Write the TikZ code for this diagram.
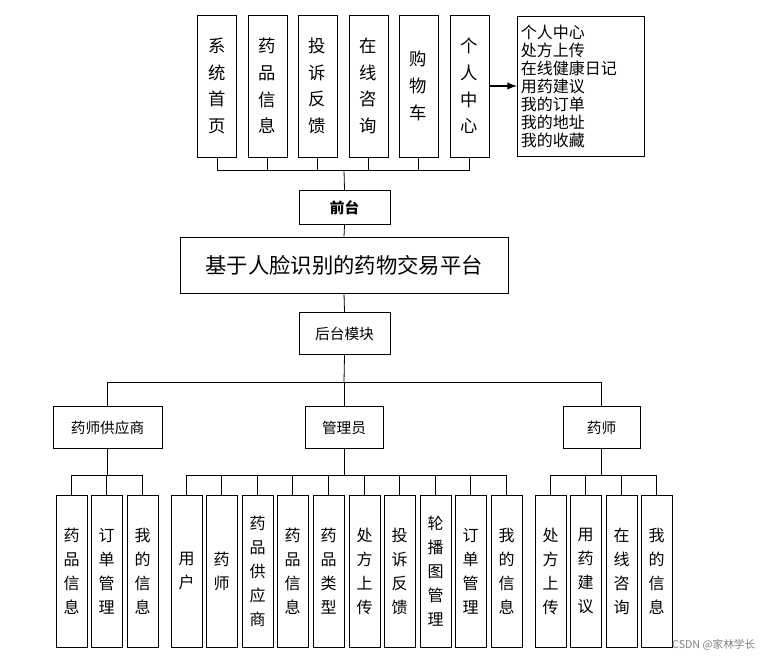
\documentclass[tikz,border=0pt]{standalone}
\usepackage{fontspec}
\newfontfamily\cjk{Noto Sans CJK SC}
\begin{document}
\begin{tikzpicture}[x=0.75pt,y=-0.75pt,
  box/.style={draw,line width=0.6pt,inner sep=0pt,font=\cjk,align=center},
  topv/.style={box,minimum width=29.25pt,minimum height=106.5pt,font=\cjk\fontsize{13}{20}\selectfont},
  botv/.style={box,minimum width=23.25pt,minimum height=114pt,font=\cjk\fontsize{12}{18}\selectfont},
  hbox/.style={box,font=\cjk\fontsize{11}{13}\selectfont},
  ln/.style={line width=0.6pt}]
\useasboundingbox (0,0) rectangle (767,659);
% top
\foreach \n/\x/\t in {t1/217/系\\统\\首\\页, t2/267.5/药\\品\\信\\息, t3/317.5/投\\诉\\反\\馈, t4/368.5/在\\线\\咨\\询, t5/418.5/购\\物\\车, t6/469.5/个\\人\\中\\心}
  \node[topv] (\n) at (\x,86) {\t};
\node[box,anchor=north west,minimum width=95.25pt,minimum height=105pt,align=left,font=\cjk\fontsize{12}{13.5}\selectfont] (pc) at (517,16) {\parbox[c][98pt][c]{90pt}{个人中心\\处方上传\\在线健康日记\\用药建议\\我的订单\\我的地址\\我的收藏}};
\draw[ln,-latex,line width=1.5pt] (t6.east) -- (pc.west |- t6.east);
\node[hbox,minimum width=68.25pt,minimum height=26pt,font=\cjk\bfseries\fontsize{11}{13}\selectfont] (fg) at (344.5,207.5) {前台};
\node[box,minimum width=246pt,minimum height=42pt,font=\cjk\fontsize{16}{18}\selectfont] (main) at (344,265) {基于人脸识别的药物交易平台};
\node[hbox,minimum width=68.25pt,minimum height=32pt] (bg) at (344.5,333.5) {后台模块};
\coordinate (tb) at (344,170);
\draw[ln] (t1.south) |- (t6.south |- tb) -- (t6.south);
\foreach \n in {t2,t3,t4,t5} \draw[ln] (\n.south) -- (\n.south |- tb);
\draw[ln] (fg.north) -- (tb);
\draw[ln] (fg.south) -- (main.north);
\draw[ln] (main.south) -- (bg.north);
% second level
\node[hbox,minimum width=81.75pt,minimum height=32pt] (g1) at (107.5,427.5) {药师供应商};
\node[hbox,minimum width=58.5pt,minimum height=32pt] (g2) at (344,427.5) {管理员};
\node[hbox,minimum width=57.75pt,minimum height=32pt] (g3) at (601.5,427.5) {药师};
\coordinate (mb) at (344,382);
\draw[ln] (bg.south) -- (mb);
\draw[ln] (g1.north) |- (g3.north |- mb) -- (g3.north);
\draw[ln] (g2.north) -- (mb);
% bottom
\foreach \n/\x/\t in {a1/71.5/药\\品\\信\\息, a2/106.5/订\\单\\管\\理, a3/142.5/我\\的\\信\\息,
  b1/186.5/用\\户, b2/221.5/药\\师, b3/257.5/药\\品\\供\\应\\商, b4/292.5/药\\品\\信\\息, b5/328.5/药\\品\\类\\型, b6/364.5/处\\方\\上\\传, b7/399.5/投\\诉\\反\\馈, b8/435.5/轮\\播\\图\\管\\理, b9/470.5/订\\单\\管\\理, b10/506.5/我\\的\\信\\息,
  c1/550.5/处\\方\\上\\传, c2/585.5/用\\药\\建\\议, c3/621.5/在\\线\\咨\\询, c4/656.5/我\\的\\信\\息}
  \node[botv] (\n) at (\x,571) {\t};
\coordinate (ba) at (0,475);
\draw[ln] (a1.north) |- (a3.north |- ba) -- (a3.north);
\draw[ln] (a2.north) -- (a2.north |- ba);
\draw[ln] (g1.south) -- (g1.south |- ba);
\draw[ln] (b1.north) |- (b10.north |- ba) -- (b10.north);
\foreach \n in {b2,b3,b4,b5,b6,b7,b8,b9} \draw[ln] (\n.north) -- (\n.north |- ba);
\draw[ln] (g2.south) -- (g2.south |- ba);
\draw[ln] (c1.north) |- (c4.north |- ba) -- (c4.north);
\foreach \n in {c2,c3} \draw[ln] (\n.north) -- (\n.north |- ba);
\draw[ln] (g3.south) -- (g3.south |- ba);
\node[font=\cjk\fontsize{8}{9}\selectfont,text=gray,anchor=east] (wm) at (760,645) {CSDN @家林学长};
\end{tikzpicture}
\end{document}
